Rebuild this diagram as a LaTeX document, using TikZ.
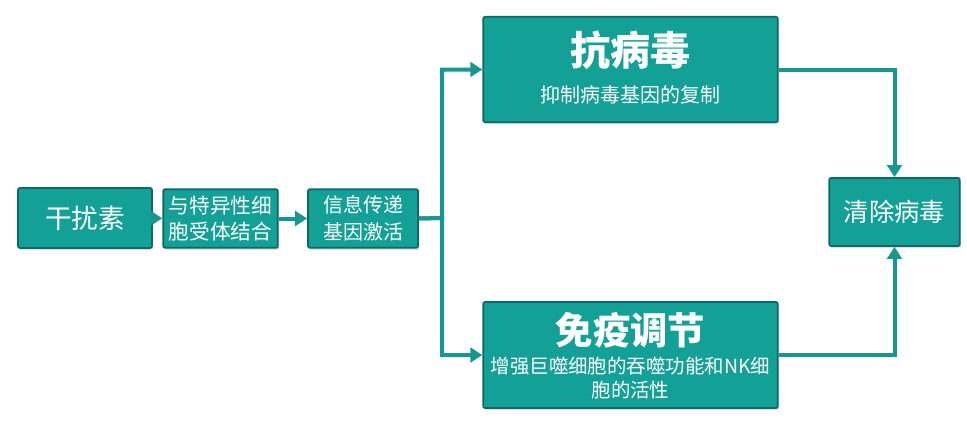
\documentclass[tikz,border=0pt]{standalone}
\usepackage{fontspec}
\setmainfont{Noto Sans CJK SC}
\usetikzlibrary{positioning,arrows.meta,shadows}
\definecolor{boxteal}{RGB}{19,160,150}
\definecolor{boxedge}{RGB}{14,104,104}
\definecolor{lineteal}{RGB}{22,152,145}

\begin{document}
\begin{tikzpicture}[x=0.75pt,y=-0.75pt,>={Triangle[length=9pt,width=11pt]},
  box/.style={draw=boxedge,line width=1.3pt,fill=boxteal,rounded corners=1.5pt,
    text=white,align=center,inner sep=0pt,
    drop shadow={shadow xshift=1pt,shadow yshift=-1.5pt,fill=black!25}},
  title/.style={text=white,font=\fontsize{30}{34}\selectfont\bfseries},
  sub/.style={text=white,align=center,font=\fontsize{14.6}{17.5}\selectfont},
  link/.style={lineteal,line width=3pt,->}]
\useasboundingbox (0,0) rectangle (967,421);
\node[box,minimum width=100.5pt,minimum height=45pt,font=\fontsize{20}{24}\selectfont] (grs) at (85,218) {干扰素};
\node[box,minimum width=86pt,minimum height=44pt,font=\fontsize{15.5}{20}\selectfont] (jh) at (220.5,218.5) {与特异性细\\胞受体结合};
\node[box,minimum width=82.5pt,minimum height=44pt,font=\fontsize{15}{20}\selectfont] (cd) at (363,218.5) {信息传递\\基因激活};
\node[box,minimum width=221pt,minimum height=79pt] (kbd) at (630.5,69.5) {};
\node[title] (kbdt) at (630.5,50) {抗病毒};
\node[sub,font=\fontsize{15}{18}\selectfont] (kbds) at (630.5,95) {抑制病毒基因的复制};
\node[box,minimum width=221pt,minimum height=79.5pt] (my) at (630.5,355) {};
\node[title,font=\fontsize{28}{32}\selectfont\bfseries] (myt) at (630.5,330) {免疫调节};
\node[sub] (mys) at (630.5,378) {增强巨噬细胞的吞噬功能和NK细\\胞的活性};
\node[box,minimum width=98pt,minimum height=51pt,font=\fontsize{19}{23}\selectfont] (qc) at (894.5,212) {清除病毒};
\coordinate (fork) at (442,218);
\draw[link] (grs) -- (jh);
\draw[link] (jh) -- (cd);
\draw[link] (cd.east) -- (fork) |- (kbd.west);
\draw[link] (cd.east) -- (fork) |- (my.west);
\draw[link] (kbd.east) -| (qc.north);
\draw[link] (my.east) -| (qc.south);
\end{tikzpicture}
\end{document}
